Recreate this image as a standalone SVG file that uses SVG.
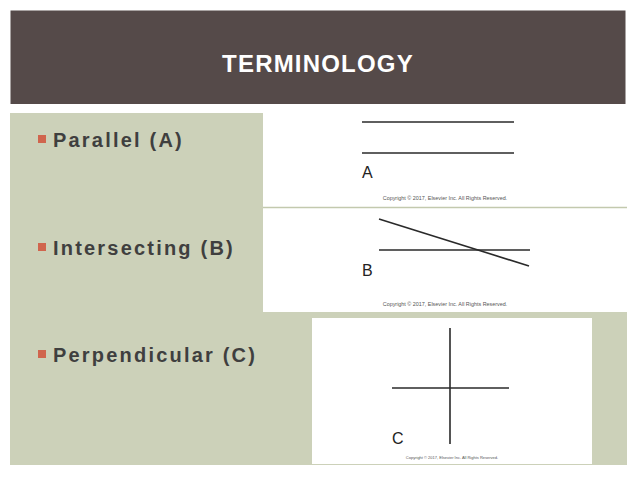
<svg xmlns="http://www.w3.org/2000/svg" width="638" height="478" viewBox="0 0 638 478">
<style>
.bul{font-family:"Liberation Sans",Arial,sans-serif;font-size:20px;font-weight:bold;fill:#3f3f3f;letter-spacing:2.2px}
.sq{fill:#d0654d}
.ln{stroke:#2a2a2a;stroke-width:1.6;fill:none}
.lbl{font-family:"Liberation Sans",Arial,sans-serif;font-size:16px;fill:#222}
.cp{font-family:"Liberation Sans",Arial,sans-serif;fill:#555}
</style>
<rect x="0" y="0" width="638" height="478" fill="#ffffff"/>
<g id="title">
<rect x="10.5" y="10.5" width="615" height="93.5" fill="#554a49"/>
<text x="318" y="72" text-anchor="middle" font-family="'Liberation Sans',Arial,sans-serif" font-size="24" font-weight="bold" fill="#ffffff" letter-spacing="1.2">TERMINOLOGY</text>
</g>
<g id="panel">
<rect x="10" y="113" width="617" height="352" fill="#ccd1b9"/>
</g>
<g id="bullets">
<rect class="sq" x="38" y="135" width="8" height="8"/>
<text class="bul" x="53" y="147">Parallel (A)</text>
<rect class="sq" x="38" y="243" width="8" height="8"/>
<text class="bul" x="53" y="255">Intersecting (B)</text>
<rect class="sq" x="38" y="350" width="8" height="8"/>
<text class="bul" x="53" y="362">Perpendicular (C)</text>
</g>
<g id="figA">
<rect x="263" y="113" width="364" height="94" fill="#ffffff"/>
<line class="ln" x1="362" y1="122" x2="514" y2="122"/>
<line class="ln" x1="362" y1="153" x2="514" y2="153"/>
<text class="lbl" x="362" y="178">A</text>
<text class="cp" x="445" y="200" font-size="5.4" text-anchor="middle">Copyright © 2017, Elsevier Inc. All Rights Reserved.</text>
</g>
<g id="figB">
<rect x="263" y="208" width="364" height="104" fill="#ffffff"/>
<line class="ln" x1="379" y1="219" x2="529" y2="266"/>
<line class="ln" x1="379" y1="250" x2="530" y2="250"/>
<text class="lbl" x="362" y="276">B</text>
<text class="cp" x="445" y="306" font-size="5.4" text-anchor="middle">Copyright © 2017, Elsevier Inc. All Rights Reserved.</text>
</g>
<g id="divider">
<line x1="263" y1="207.5" x2="627" y2="207.5" stroke="#c3c9ae" stroke-width="1.5"/>
</g>
<g id="figC">
<rect x="312" y="318" width="280" height="146" fill="#ffffff"/>
<line class="ln" x1="450" y1="328" x2="450" y2="444"/>
<line class="ln" x1="392" y1="388" x2="509" y2="388"/>
<text class="lbl" x="392" y="444">C</text>
<text class="cp" x="452" y="459" font-size="4" text-anchor="middle">Copyright © 2017, Elsevier Inc. All Rights Reserved.</text>
</g>
</svg>
